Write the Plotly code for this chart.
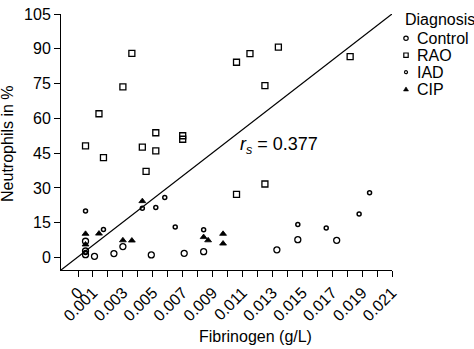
import plotly.graph_objects as go

# Fibrinogen (g/L) vs. neutrophils (%) by diagnosis group
control_x = [0.0005, 0.0005, 0.0005, 0.0011, 0.0024, 0.0030, 0.0049, 0.0071, 0.0084, 0.0133, 0.0147, 0.0173]
control_y = [7.0, 2.8, 1.2, 0.5, 1.7, 4.7, 1.1, 1.8, 2.5, 3.3, 7.7, 7.4]

rao_x = [0.0005, 0.0014, 0.0017, 0.0030, 0.0036, 0.0043, 0.00455, 0.0052, 0.0052, 0.0070,
         0.0070, 0.0106, 0.0106, 0.0115, 0.0125, 0.0125, 0.0134, 0.0182]
rao_y = [48.1, 62.0, 43.1, 73.6, 88.0, 47.6, 37.1, 53.8, 46.0, 51.0,
         52.5, 84.2, 27.2, 87.9, 74.1, 31.7, 90.7, 86.6]

iad_x = [0.0005, 0.0005, 0.0017, 0.0043, 0.0052, 0.0058, 0.0065, 0.0084, 0.0147, 0.0166, 0.0188, 0.0195]
iad_y = [20.1, 2.2, 12.1, 21.2, 21.6, 25.9, 13.1, 12.0, 14.2, 12.7, 18.8, 27.9]

cip_x = [0.0005, 0.0005, 0.0014, 0.0030, 0.0036, 0.0043, 0.0084, 0.0087, 0.0097, 0.0097]
cip_y = [10.2, 5.6, 10.3, 7.4, 7.3, 24.3, 8.8, 7.4, 10.2, 6.0]

# Fitted trend line and Spearman coefficient
fit_slope = 4986.0
fit_intercept = 0.3
rs_value = 0.377

# Axis setup
x_range = [-0.00114, 0.021]
y_range = [-5.4, 105.02]
x_tickvals = [i / 1000 for i in range(22)]
x_ticktext = ["0" if i == 0 else (f"0.{i:03d}" if i % 2 == 1 else " ") for i in range(22)]
y_tickvals = [0, 15, 30, 45, 60, 75, 90, 105]

legend_labels = ["Control", "RAO", "IAD", "CIP"]

FONT = "Liberation Sans, Arial, sans-serif"
W, H = 474, 349
ML, MR, MT, MB = 61, 82, 6, 79
PW, PH = W - ML - MR, H - MT - MB


def px_to_paper(px, py):
    return (px - ML) / PW, (H - MB - py) / PH


fig = go.Figure()

fig.add_trace(go.Scatter(
    x=control_x, y=control_y, mode="markers", name="Control",
    marker=dict(symbol="circle-open", size=6, color="black", line=dict(width=1.3, color="black")),
    cliponaxis=False))
fig.add_trace(go.Scatter(
    x=rao_x, y=rao_y, mode="markers", name="RAO",
    marker=dict(symbol="square-open", size=6, color="black", line=dict(width=1.3, color="black")),
    cliponaxis=False))
fig.add_trace(go.Scatter(
    x=iad_x, y=iad_y, mode="markers", name="IAD",
    marker=dict(symbol="circle-open", size=4, color="black", line=dict(width=1.5, color="black")),
    cliponaxis=False))
fig.add_trace(go.Scatter(
    x=cip_x, y=cip_y, mode="markers", name="CIP",
    marker=dict(symbol="triangle-up", size=6, color="black", line=dict(width=0.8, color="black")),
    cliponaxis=False))

line_x = [x_range[0], x_range[1]]
line_y = [fit_intercept + fit_slope * v for v in line_x]
fig.add_trace(go.Scatter(x=line_x, y=line_y, mode="lines", line=dict(color="black", width=1.3),
                         showlegend=False, hoverinfo="skip", cliponaxis=False))

annotations = [
    dict(x=0.0107, y=48.5, xref="x", yref="y", xanchor="left", yanchor="middle",
         text=f"<i>r</i><sub><i>s</i></sub> = {rs_value}", showarrow=False,
         font=dict(family=FONT, size=18, color="black")),
]

# Axis titles
tx, ty = px_to_paper(255.5, 339)
annotations.append(dict(x=tx, y=ty, xref="paper", yref="paper", xanchor="center", yanchor="middle",
                        text="Fibrinogen (g/L)", showarrow=False,
                        font=dict(family=FONT, size=16, color="black")))
tx, ty = px_to_paper(8, 140)
annotations.append(dict(x=tx, y=ty, xref="paper", yref="paper", xanchor="center", yanchor="middle",
                        text="Neutrophils in %", textangle=-90, showarrow=False,
                        font=dict(family=FONT, size=16, color="black")))

# Legend drawn beside the plot
lx, ly = px_to_paper(403, 12)
annotations.append(dict(x=lx, y=ly, xref="paper", yref="paper", xanchor="left", yanchor="middle",
                        text="Diagnosis", showarrow=False,
                        font=dict(family=FONT, size=16, color="black")))
row_y = [31, 48.5, 66, 83.5]
shapes = []
for label, ry in zip(legend_labels, row_y):
    tx, ty = px_to_paper(415, ry)
    annotations.append(dict(x=tx, y=ty, xref="paper", yref="paper", xanchor="left", yanchor="middle",
                            text=label, showarrow=False,
                            font=dict(family=FONT, size=16, color="black")))
    sx, sy = px_to_paper(406, ry)
    common = dict(xref="paper", yref="paper", xsizemode="pixel", ysizemode="pixel",
                  xanchor=sx, yanchor=sy)
    if label == "Control":
        shapes.append(dict(type="circle", x0=-2.2, x1=2.2, y0=-2.2, y1=2.2,
                           line=dict(color="black", width=1.2), **common))
    elif label == "RAO":
        shapes.append(dict(type="rect", x0=-2.2, x1=2.2, y0=-2.2, y1=2.2,
                           line=dict(color="black", width=1.2), **common))
    elif label == "IAD":
        shapes.append(dict(type="circle", x0=-1.5, x1=1.5, y0=-1.5, y1=1.5,
                           line=dict(color="black", width=1.2), **common))
    else:
        shapes.append(dict(type="path", path="M -2.5 -1.8 L 2.5 -1.8 L 0 2.2 Z",
                           fillcolor="black", line=dict(color="black", width=0.6), **common))

fig.update_layout(
    width=W, height=H,
    margin=dict(l=ML, r=MR, t=MT, b=MB, pad=0),
    paper_bgcolor="white", plot_bgcolor="white",
    showlegend=False,
    font=dict(family=FONT, size=16, color="black"),
    annotations=annotations,
    shapes=shapes,
    xaxis=dict(range=x_range, tickmode="array", tickvals=x_tickvals, ticktext=x_ticktext,
               tickangle=-45, ticks="outside", ticklen=6, tickwidth=1, tickcolor="black",
               showline=True, linecolor="black", linewidth=1, showgrid=False, zeroline=False,
               ticklabeloverflow="allow",
               tickfont=dict(family=FONT, size=16, color="black")),
    yaxis=dict(range=y_range, tickmode="array", tickvals=y_tickvals,
               ticks="outside", ticklen=6, tickwidth=1, tickcolor="black",
               showline=True, linecolor="black", linewidth=1, showgrid=False, zeroline=False,
               ticklabeloverflow="allow",
               tickfont=dict(family=FONT, size=16, color="black")),
)

fig.write_html("out.html")
